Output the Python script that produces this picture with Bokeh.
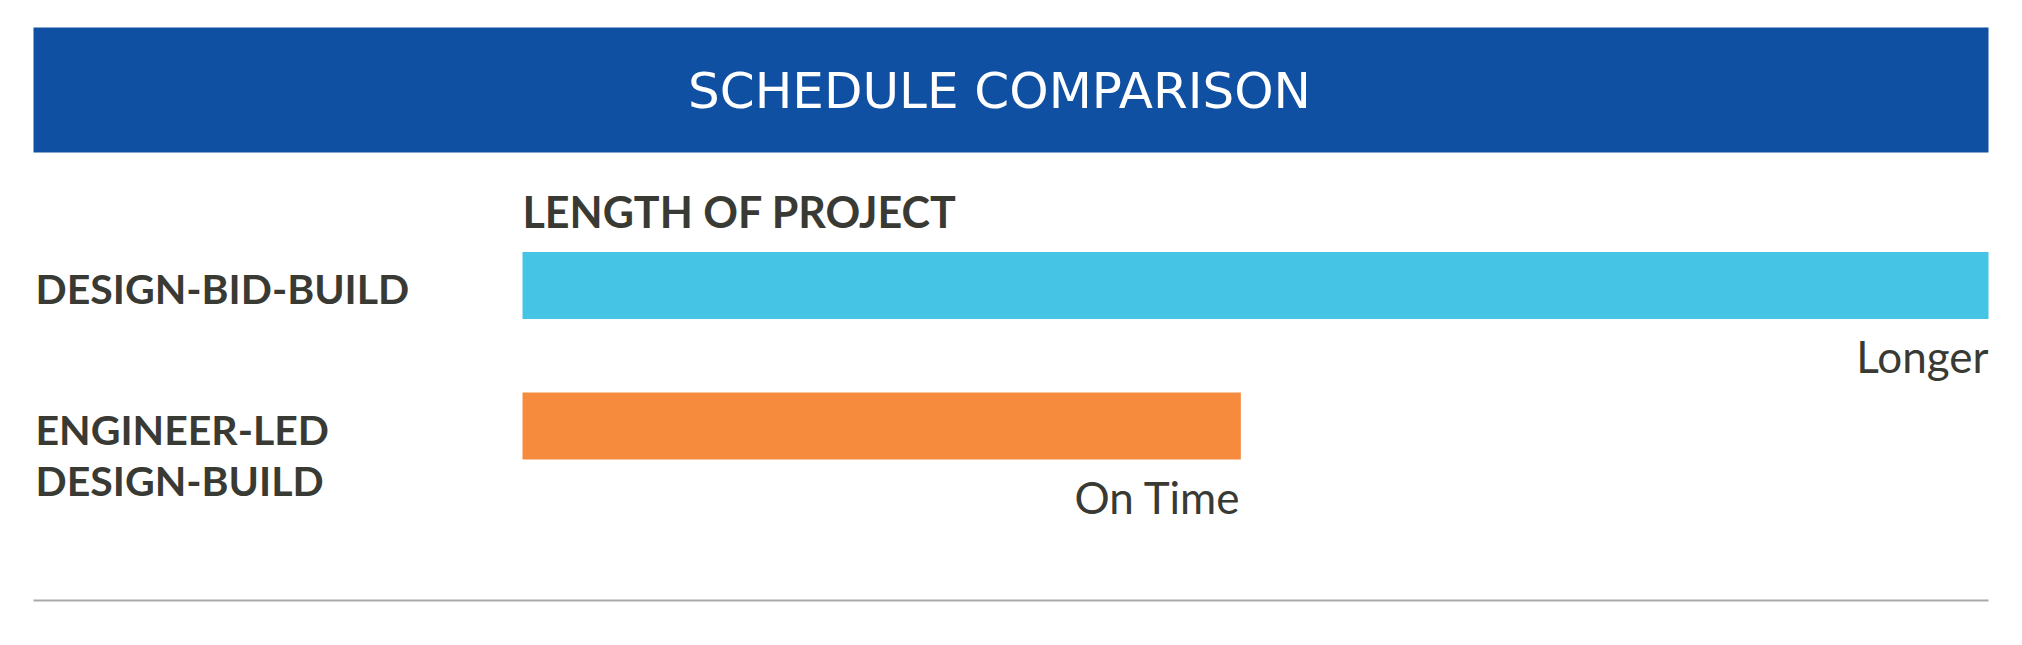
from bokeh.plotting import figure
from bokeh.models import Range1d, BoxAnnotation, ColumnDataSource
from bokeh.core.properties import value
from bokeh.transform import dodge
from bokeh.embed import file_html
from bokeh.resources import INLINE

# ---- data ----
title = "SCHEDULE COMPARISON"
axis_title = "LENGTH OF PROJECT"
categories = ["DESIGN-BID-BUILD", "ENGINEER-LED\nDESIGN-BUILD"]
lengths = [100, 49]
outcome_labels = ["Longer", "On Time"]
bar_colors = ["#45C4E5", "#F68B3E"]

# ---- layout (pixels) ----
W, H = 2022, 645
PLOT_LEFT_PX, PLOT_RIGHT_PX = 522, 1988
ROW0_PX, ROW_STEP_PX = 285, 140.5
BAR_PX = 67
TEXT_COLOR = "#393a34"
BASE_FIX = -17  # alphabetic baseline correction

x_scale = (PLOT_RIGHT_PX - PLOT_LEFT_PX) / max(lengths)
x_start = -PLOT_LEFT_PX / x_scale
x_end = x_start + W / x_scale
y_top = -ROW0_PX / ROW_STEP_PX
y_bottom = y_top + H / ROW_STEP_PX


def px_x(px):
    return x_start + px / x_scale


def px_y(py):
    return y_top + py / ROW_STEP_PX


bar_h = BAR_PX / ROW_STEP_PX
rows = list(range(len(categories)))

source = ColumnDataSource(dict(
    cat=categories, length=lengths, row=rows, color=bar_colors, outcome=outcome_labels,
))

p = figure(width=W, height=H, x_range=Range1d(x_start, x_end),
           y_range=Range1d(y_bottom, y_top), output_backend="svg",
           toolbar_location=None, min_border=0, x_axis_location=None,
           y_axis_location=None, outline_line_color=None,
           background_fill_color="white", border_fill_color="white")
p.grid.visible = False

# banner
p.add_layout(BoxAnnotation(left=px_x(33), right=px_x(1988), top=px_y(27), bottom=px_y(152),
                           fill_color="#1050A3", fill_alpha=1.0, line_color=None, level="underlay"))
p.text(x=[px_x(999)], y=[px_y(107)], text=[title], text_align="center",
       text_baseline="alphabetic", y_offset=BASE_FIX, text_color="white",
       text_font=value("DejaVu Sans"), text_font_size="50px")

# bottom rule
p.add_layout(BoxAnnotation(left=px_x(33), right=px_x(1988), top=px_y(599), bottom=px_y(601),
                           fill_color="#aaaaaa", fill_alpha=1.0, line_color=None))

# bars
p.hbar(y="row", left=0, right="length", height=bar_h, fill_color="color",
       line_color=None, source=source)

# axis title above first bar
p.text(x=[0], y=[rows[0] - bar_h / 2], text=[axis_title], text_align="left",
       text_baseline="alphabetic", y_offset=-24 + BASE_FIX, text_color=TEXT_COLOR,
       text_font=value("Lato"), text_font_style="bold", text_font_size="43px")

# category labels
p.text(x=px_x(35), y=dodge("row", -bar_h / 2, range=p.y_range), text="cat",
       text_align="left", text_baseline="top", y_offset=12,
       text_color=TEXT_COLOR, text_font=value("Lato"), text_font_style="bold",
       text_font_size="41px", text_line_height=1.05, source=source)

# outcome labels under bars
p.text(x="length", y=dodge("row", bar_h / 2, range=p.y_range), text="outcome",
       text_align="right", text_baseline="alphabetic", y_offset=54 + BASE_FIX,
       text_color=TEXT_COLOR, text_font=value("Lato"), text_font_size="44px",
       source=source)

open("out.html", "w").write(file_html(p, INLINE))
